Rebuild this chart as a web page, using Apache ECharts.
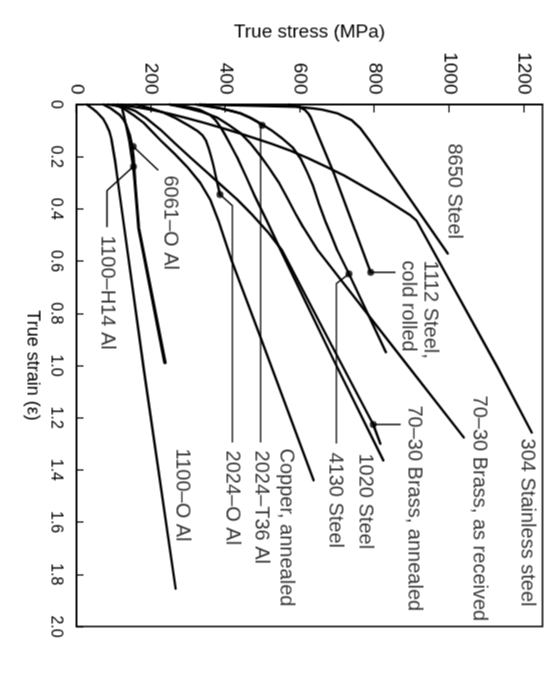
<!DOCTYPE html>
<html>
<head>
<meta charset="utf-8">
<script src="https://cdn.jsdelivr.net/npm/echarts@6/dist/echarts.min.js"></script>
<style>
  html, body { margin: 0; padding: 0; background: #fff; overflow: hidden; width: 557px; height: 700px; }
  #chart { position: absolute; width: 700px; height: 557px; left: -71.5px; top: 71.5px; transform: rotate(90deg); transform-origin: 50% 50%; }
</style>
</head>
<body>
<div id="chart"></div>
<script>
// [true strain, true stress (MPa)]
const stainless304   = [[0,110],[0.01,160],[0.02,200],[0.035,248],[0.05,290],[0.07,342],[0.09,390],[0.11,436],[0.13,480],[0.15,522],[0.176,572],[0.205,620],[0.24,672],[0.27,715],[0.3,752],[0.36,825],[0.425,896],[0.445,912],[1.006,1129],[1.257,1221]];
const brassAsRecvd   = [[0,250],[0.015,300],[0.03,340],[0.05,377],[0.08,410],[0.11,440],[0.15,467],[0.2,495],[0.25,520],[0.3,543],[0.36,566],[0.42,588],[0.47,608],[0.56,648],[0.981,878],[1.276,1039]];
const steel8650      = [[0,330],[0.004,450],[0.009,592],[0.015,635],[0.02,660],[0.034,700],[0.06,738],[0.092,762],[0.142,788],[0.188,810],[0.571,996]];
const steel1112      = [[0,570],[0.01,598],[0.02,612],[0.035,622],[0.049,628],[0.1,643],[0.266,691],[0.643,789]];
const brassAnnealed  = [[0,85],[0.01,130],[0.025,158],[0.05,185],[0.1,228],[0.15,265],[0.2,303],[0.26,350],[0.309,388],[0.36,428],[0.42,470],[0.49,514],[0.56,552],[0.9,676],[1.226,796],[1.3,815]];
const steel1020      = [[0,250],[0.01,300],[0.02,330],[0.04,358],[0.06,373],[0.09,388],[0.12,400],[0.16,415],[0.2,430],[0.28,456],[0.35,478],[0.45,512],[0.56,548],[0.98,690],[1.364,823]];
const steel4130      = [[0,320],[0.015,387],[0.034,440],[0.05,465],[0.073,494],[0.1,524],[0.13,552],[0.165,580],[0.207,601],[0.26,619],[0.31,634],[0.38,650],[0.45,668],[0.5,683],[0.56,700],[0.649,731],[0.949,830]];
const copperAnnealed = [[0,100],[0.015,126],[0.04,152],[0.07,180],[0.1,200],[0.138,226],[0.19,264],[0.241,298],[0.3,332],[0.368,360],[0.45,382],[0.52,398],[0.598,416],[0.893,494],[1.44,636]];
const al2024T36      = [[0,330],[0.008,362],[0.015,387],[0.025,418],[0.034,440],[0.05,465],[0.065,484],[0.08,498]];
const al2024O        = [[0,160],[0.015,200],[0.03,232],[0.054,268],[0.08,300],[0.1,323],[0.118,338],[0.14,348],[0.17,355],[0.2,361],[0.233,367],[0.29,376],[0.345,385]];
const al6061O        = [[0,72],[0.015,92],[0.04,116],[0.06,127],[0.08,134],[0.12,144],[0.161,150],[0.2,153],[0.238,155],[0.3,158],[0.475,168],[0.99,239]];
const al1100H14      = [[0,121],[0.025,124],[0.054,129],[0.1,136],[0.142,142],[0.19,147],[0.238,152],[0.3,156],[0.475,166],[0.99,236]];
const al1100O        = [[0,27],[0.015,42],[0.03,55],[0.054,71],[0.08,81],[0.103,88],[0.135,94],[0.169,98],[0.22,104],[0.295,111],[1.02,181],[1.855,266]];

const curves = [stainless304, brassAsRecvd, steel8650, steel1112, brassAnnealed, steel1020, steel4130,
                copperAnnealed, al2024T36, al2024O, al6061O, al1100H14, al1100O];

// label text and anchor [strain where text starts, stress at text centre]
const labelTexts   = ['304 Stainless steel','70–30 Brass, as received','70–30 Brass, annealed','1020 Steel','4130 Steel',
                      'Copper, annealed','2024–T36 Al','2024–O Al','1100–O Al','1100–H14 Al','6061–O Al','8650 Steel','1112 Steel,\ncold rolled'];
const labelAnchors = [[1.28,1208],[1.115,1079],[1.153,905],[1.337,775],[1.333,693],
                      [1.318,562],[1.326,494],[1.326,417],[1.318,282],[0.502,83],[0.272,250],[0.149,1013],[0.598,918]];

// leader lines and marker dots
const leader1112   = [[0.643,789],[0.643,856]];
const leader4130   = [[0.649,731],[0.686,697],[1.299,697]];
const leaderBrassA = [[1.226,796],[1.226,870]];
const leaderT36    = [[0.08,498],[0.09,494],[1.295,494]];
const leader2024O  = [[0.345,385],[0.387,418],[1.295,418]];
const leader6061   = [[0.161,152],[0.252,219]];
const leaderH14    = [[0.238,152],[0.33,82],[0.47,82]];
const leaders = [leader1112, leader4130, leaderBrassA, leaderT36, leader2024O, leader6061, leaderH14];
const dots = [[0.643,789],[0.649,731],[1.226,796],[0.08,498],[0.345,385],[0.161,152],[0.238,153]];

const strainTicks = { min: 0, max: 2, interval: 0.2 };
const stressTicks = { min: 0, max: 1250, interval: 200 };

const FONT = "'Liberation Sans', Arial, Helvetica, sans-serif";
const INK = '#000';

const series = [];
curves.forEach(c => series.push({
  type: 'line', data: c, showSymbol: false, smooth: false,
  lineStyle: { color: INK, width: 2.4, join: 'round', cap: 'round' }, silent: true, z: 3
}));
leaders.forEach(l => series.push({
  type: 'line', data: l, showSymbol: false, lineStyle: { color: INK, width: 1.4 }, silent: true, z: 2
}));
series.push({
  type: 'scatter', data: dots, symbol: 'circle', symbolSize: 7,
  itemStyle: { color: INK }, silent: true, z: 4
});
series.push({
  type: 'scatter', symbolSize: 0, silent: true, z: 5,
  data: labelAnchors.map((a, i) => ({ value: a, name: labelTexts[i] })),
  label: {
    show: true, position: 'right', distance: 0, formatter: p => p.name,
    fontFamily: FONT, fontSize: 20, color: INK, lineHeight: 22, align: 'left'
  }
});

const chart = echarts.init(document.getElementById('chart'), null, { renderer: 'canvas' });
chart.setOption({
  animation: false,
  backgroundColor: '#fff',
  textStyle: { fontFamily: FONT },
  grid: { left: 104, right: 74, top: 15, bottom: 76, show: true, borderColor: INK, borderWidth: 1.5, containLabel: false },
  xAxis: {
    type: 'value', min: strainTicks.min, max: strainTicks.max, interval: strainTicks.interval,
    name: 'True strain (ε)', nameLocation: 'middle', nameGap: 35,
    nameTextStyle: { fontFamily: FONT, fontSize: 18, color: INK },
    axisLine: { show: true, lineStyle: { color: INK, width: 1.5 } },
    axisTick: { show: true, inside: true, length: 7, lineStyle: { color: INK, width: 1.2 } },
    axisLabel: { fontFamily: FONT, fontSize: 16, color: INK, margin: 13,
                 formatter: v => v === 0 ? '0' : v.toFixed(1) },
    splitLine: { show: false }
  },
  yAxis: {
    type: 'value', min: stressTicks.min, max: stressTicks.max, interval: stressTicks.interval,
    name: 'True stress (MPa)', nameLocation: 'middle', nameGap: 40,
    nameTextStyle: { fontFamily: FONT, fontSize: 19, color: INK },
    axisLine: { show: true, lineStyle: { color: INK, width: 1.5 } },
    axisTick: { show: true, inside: true, length: 8, lineStyle: { color: INK, width: 1.2 } },
    axisLabel: { fontFamily: FONT, fontSize: 19, color: INK, margin: 10, showMaxLabel: false,
                 formatter: v => String(v) },
    splitLine: { show: false }
  },
  series: series
});
</script>
</body>
</html>
